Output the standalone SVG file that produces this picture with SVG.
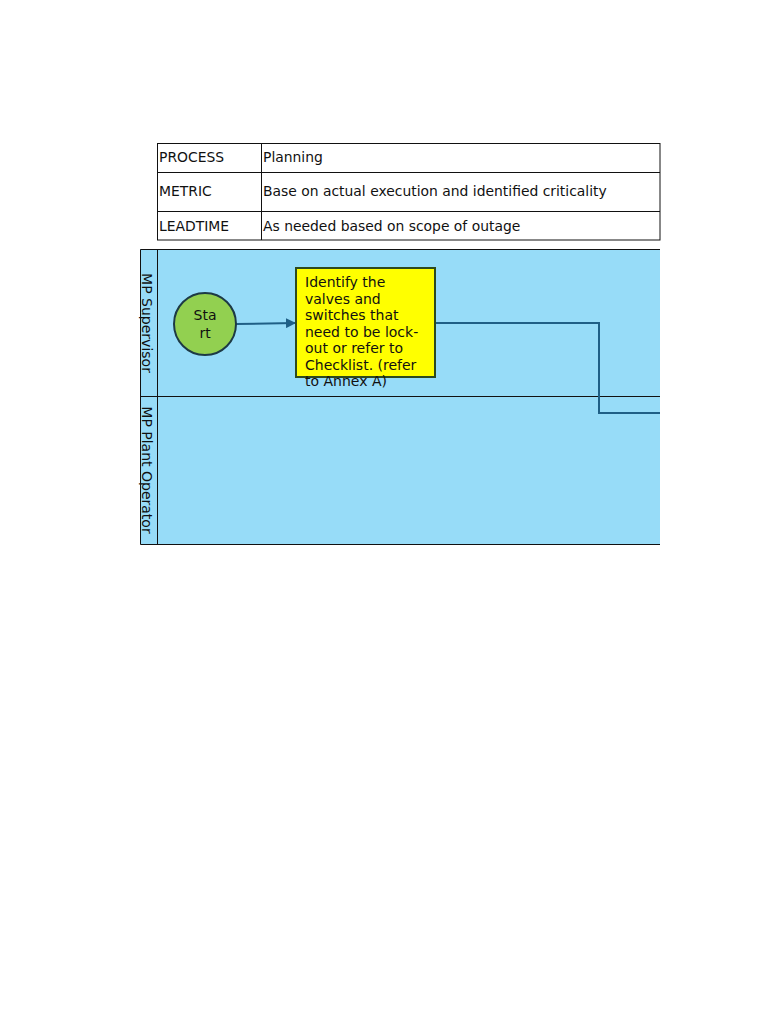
<svg xmlns="http://www.w3.org/2000/svg" width="768" height="1024" viewBox="0 0 768 1024">
<style>
text{font-family:"DejaVu Sans",sans-serif;font-size:14px;fill:#111}
.t{font-size:13.9px}
.conn{fill:none;stroke:#1f5f86;stroke-width:2}
</style>
<defs>
<marker id="arr" viewBox="0 0 10 10" refX="9" refY="5" markerWidth="5" markerHeight="5" orient="auto"><path d="M0,0L10,5L0,10z" fill="#1f5f86"/></marker>
</defs>
<g id="table">
<rect x="157.5" y="143.5" width="502.5" height="96.5" fill="#fff" stroke="#111"/>
<line x1="157" y1="172.5" x2="660" y2="172.5" stroke="#111"/>
<line x1="157" y1="211.5" x2="660" y2="211.5" stroke="#111"/>
<line x1="261.5" y1="143" x2="261.5" y2="240" stroke="#111"/>
<text class="t" x="159" y="162">PROCESS</text>
<text class="t" x="263" y="162">Planning</text>
<text class="t" x="159" y="196">METRIC</text>
<text class="t" x="263" y="196">Base on actual execution and identified criticality</text>
<text class="t" x="159" y="231">LEADTIME</text>
<text class="t" x="263" y="231">As needed based on scope of outage</text>
</g>
<g id="lanes">
<rect x="140" y="249" width="520" height="295" fill="#97dcf8"/>
<path d="M660,249.5H140.5V544.5H660M157.5,249V544M140,396.5H660" fill="none" stroke="#111" stroke-width="1"/>
<text transform="translate(142,323) rotate(90)" text-anchor="middle">MP Supervisor</text>
<text transform="translate(142,470) rotate(90)" text-anchor="middle">MP Plant Operator</text>
</g>
<g id="connectors">
<path class="conn" d="M236,324L295,323" marker-end="url(#arr)"/>
<path class="conn" d="M435,323H599V413H660"/>
</g>
<g id="start">
<circle cx="205" cy="324" r="31" fill="#92d050" stroke="#1d3a45" stroke-width="2"/>
<text x="205" y="320" text-anchor="middle">Sta</text>
<text x="205" y="338" text-anchor="middle">rt</text>
</g>
<g id="identify">
<rect x="296" y="268" width="139" height="109" fill="#ffff00" stroke="#2d4a1e" stroke-width="2"/>
<text x="305" y="287">Identify the</text>
<text x="305" y="303.5">valves and</text>
<text x="305" y="320">switches that</text>
<text x="305" y="336.5">need to be lock-</text>
<text x="305" y="353">out or refer to</text>
<text x="305" y="369.5">Checklist. (refer</text>
<text x="305" y="386">to Annex A)</text>
</g>
</svg>
